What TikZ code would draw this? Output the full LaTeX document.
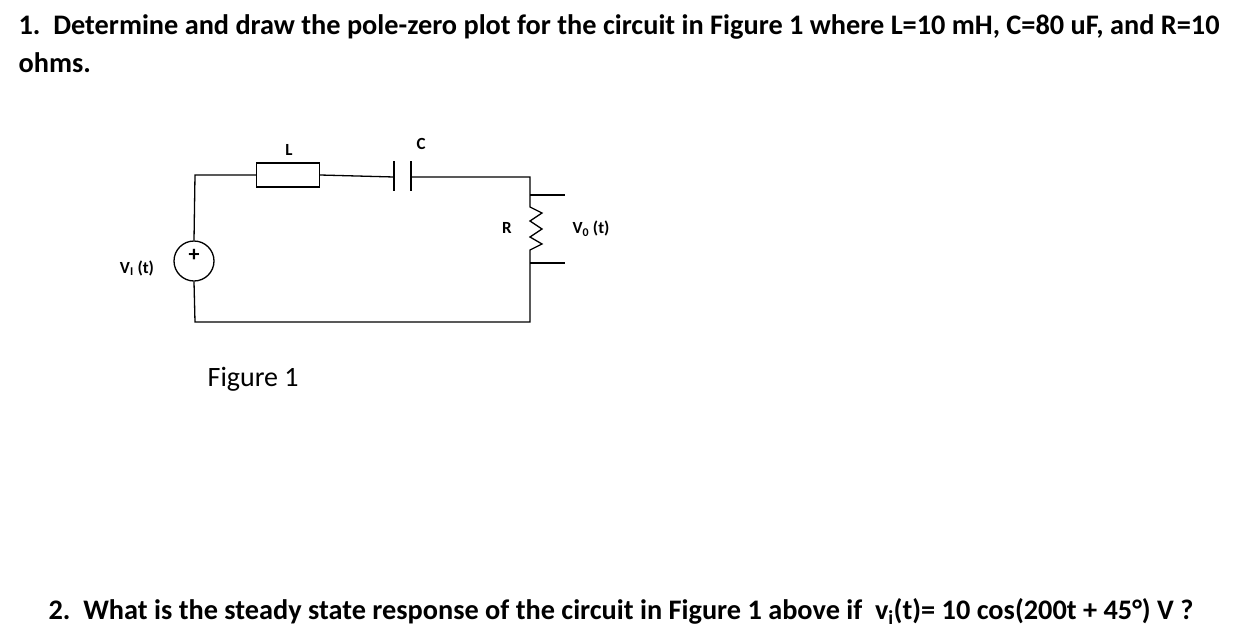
\documentclass[tikz,border=0pt]{standalone}
\usepackage{fontspec}
\setmainfont{Carlito}
\begin{document}
\begin{tikzpicture}[x=1pt,y=-1pt,line width=1.3pt,
  big/.style={font=\bfseries\fontsize{28.3}{32}\selectfont,anchor=base west,inner sep=0},
  lab/.style={font=\bfseries\fontsize{17}{19}\selectfont,inner sep=0}]
\useasboundingbox (0,0) rectangle (1236,635);
\node[big] (t1) at (18,34) {1.\ \ Determine and draw the pole-zero plot for the circuit in Figure 1 where L=10 mH, C=80 uF, and R=10};
\node[big] (t2) at (18,72) {ohms.};
\node[big] (t3) at (48,619) {2.\ \ What is the steady state response of the circuit in Figure 1 above if\ \ v\textsubscript{i}(t)= 10 cos(200t + 45°) V ?};
\node[big,font=\fontsize{28}{32}\selectfont] (fig) at (207,386) {Figure 1};
% components
\node[draw,circle,minimum size=40pt,inner sep=0] (src) at (194,261) {};
\node[font=\bfseries\fontsize{22}{22}\selectfont] (plus) at (194,255) {+};
\node[draw,minimum width=63pt,minimum height=24pt,inner sep=0] (ind) at (288,175) {};
\coordinate (c1) at (394,177); \coordinate (c2) at (411,177);
\draw (c1)++(0,-16) -- ++(0,30);
\draw (c2)++(0,-16) -- ++(0,30);
\coordinate (tl) at (195,175); \coordinate (tr) at (530,177);
\coordinate (bl) at (195,322); \coordinate (br) at (530,322);
\coordinate (r1) at (530,207); \coordinate (r2) at (530,250);
\draw (src.north) -- (tl) -- (ind.west);
\draw (ind.east) -- (c1);
\draw (c2) -- (tr) -- (r1) -- ++(12,6) -- ++(-12,8) -- ++(12,8) -- ++(-12,8) -- ++(12,7) -- ++(-12,6) -- (r2) -- (br) -- (bl) -- (src.south);
\coordinate (o1) at (530,195); \coordinate (o2) at (530,263);
\draw (o1) -- ++(35,0); \draw (o2) -- ++(35,0);
\node[lab] (lL) at (289,150) {L};
\node[lab] (lC) at (421,144) {C};
\node[lab] (lR) at (507,228) {R};
\node[lab] (lV) at (591,229) {V\textsubscript{0} (t)};
\node[lab] (lVi) at (137,268) {V\textsubscript{I} (t)};
\end{tikzpicture}
\end{document}
